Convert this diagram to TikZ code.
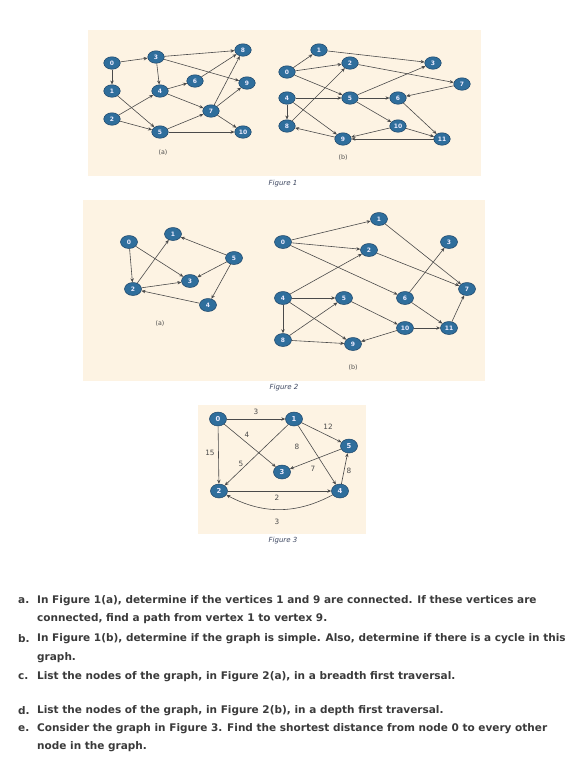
\documentclass[tikz,border=0pt]{standalone}
\usepackage{fontspec}
\setmainfont{DejaVu Sans}
\usetikzlibrary{shapes.geometric,arrows.meta}
\definecolor{panelbg}{HTML}{FDF3E3}
\definecolor{nodefill}{HTML}{2F6E9C}
\definecolor{nodeedge}{HTML}{1D4568}
\definecolor{edgecol}{HTML}{4A4A4A}
\definecolor{capcol}{HTML}{3C4660}
\definecolor{qcol}{HTML}{3A3A3A}
\tikzset{
  vtx/.style={ellipse,fill=nodefill,draw=nodeedge,line width=0.5pt,minimum width=16.5pt,minimum height=12.5pt,inner sep=0pt,text=white!92!blue,font=\fontsize{6}{6}\selectfont\bfseries},
  vtxm/.style={vtx,minimum width=17pt,minimum height=13pt},
  vtxb/.style={vtx,minimum width=17pt,minimum height=14pt,font=\fontsize{6.8}{7}\selectfont\bfseries},
  arc/.style={draw=edgecol,line width=0.6pt,-{Stealth[length=4pt,width=3.4pt]}},
  panel/.style={fill=panelbg,draw=none},
  sub/.style={font=\fontsize{6.3}{7}\selectfont,text=black!70},
  figcap/.style={font=\fontsize{7}{8}\selectfont\itshape,text=capcol},
  wt/.style={font=\fontsize{7.3}{8}\selectfont,text=black!70},
  qline/.style={anchor=west,font=\fontsize{10.5}{12}\selectfont\bfseries,text=qcol,inner sep=0pt}
}
\begin{document}
\begin{tikzpicture}[x=1pt,y=-1pt]
\useasboundingbox (0,0) rectangle (584,772);
\fill[white] (0,0) rectangle (584,772);
% panels
\path[panel] (88,30) rectangle (481,176);
\path[panel] (83,200) rectangle (485,381);
\path[panel] (198,405) rectangle (366,534);

% ---------- Figure 1(a)
\node[vtx] (a0) at (112,63) {0};
\node[vtx] (a3) at (156,57) {3};
\node[vtx] (a1) at (112,91) {1};
\node[vtx] (a4) at (160,91) {4};
\node[vtx] (a6) at (195,81) {6};
\node[vtx] (a8) at (243,50) {8};
\node[vtx] (a9) at (247,83) {9};
\node[vtx] (a2) at (112,119) {2};
\node[vtx] (a5) at (160,132) {5};
\node[vtx] (a7) at (211,111) {7};
\node[vtx] (a10) at (243,132) {10};
\node[sub] (alab) at (163,153) {(a)};
\draw[arc] (a0) -- (a3);
\draw[arc] (a0) -- (a1);
\draw[arc] (a3) -- (a8);
\draw[arc] (a3) -- (a9);
\draw[arc] (a3) -- (a4);
\draw[arc] (a4) -- (a6);
\draw[arc] (a4) -- (a7);
\draw[arc] (a6) -- (a8);
\draw[arc] (a1) -- (a5);
\draw[arc] (a2) -- (a4);
\draw[arc] (a2) -- (a5);
\draw[arc] (a5) -- (a7);
\draw[arc] (a5) -- (a10);
\draw[arc] (a7) -- (a8);
\draw[arc] (a7) -- (a9);
\draw[arc] (a7) -- (a10);

% ---------- Figure 1(b)
\node[vtx] (b1) at (319,50) {1};
\node[vtx] (b0) at (287,72) {0};
\node[vtx] (b2) at (350,63) {2};
\node[vtx] (b3) at (433,63) {3};
\node[vtx] (b7) at (462,84) {7};
\node[vtx] (b4) at (287,98) {4};
\node[vtx] (b5) at (350,98) {5};
\node[vtx] (b6) at (398,98) {6};
\node[vtx] (b8) at (287,126) {8};
\node[vtx] (b10) at (398,126) {10};
\node[vtx] (b9) at (343,139) {9};
\node[vtx] (b11) at (442,139) {11};
\node[sub] (blab) at (343,158) {(b)};
\draw[arc] (b0) -- (b1);
\draw[arc] (b0) -- (b2);
\draw[arc] (b0) -- (b5);
\draw[arc] (b1) -- (b3);
\draw[arc] (b2) -- (b7);
\draw[arc] (b4) -- (b5);
\draw[arc] (b4) -- (b8);
\draw[arc] (b4) -- (b9);
\draw[arc] (b8) -- (b2);
\draw[arc] (b5) -- (b3);
\draw[arc] (b5) -- (b6);
\draw[arc] (b5) -- (b10);
\draw[arc] (b7) -- (b6);
\draw[arc] (b6) -- (b11);
\draw[arc] (b10) -- (b9);
\draw[arc] (b10) -- (b11);
\draw[arc] (b11) -- (b9);
\draw[arc] (b9) -- (b8);
\node[figcap] (cap1) at (283,184) {Figure 1};

% ---------- Figure 2(a)
\node[vtxm] (c0) at (129,242) {0};
\node[vtxm] (c1) at (173,234) {1};
\node[vtxm] (c5) at (234,258) {5};
\node[vtxm] (c2) at (133,289) {2};
\node[vtxm] (c3) at (190,281) {3};
\node[vtxm] (c4) at (208,305) {4};
\node[sub] (clab) at (160,324) {(a)};
\draw[arc] (c0) -- (c2);
\draw[arc] (c0) -- (c3);
\draw[arc] (c2) -- (c1);
\draw[arc] (c2) -- (c3);
\draw[arc] (c5) -- (c1);
\draw[arc] (c5) -- (c3);
\draw[arc] (c5) -- (c4);
\draw[arc] (c4) -- (c2);

% ---------- Figure 2(b)
\node[vtxm] (d1) at (379,219) {1};
\node[vtxm] (d0) at (283,242) {0};
\node[vtxm] (d2) at (369,250) {2};
\node[vtxm] (d3) at (449,242) {3};
\node[vtxm] (d7) at (467,289) {7};
\node[vtxm] (d4) at (283,298) {4};
\node[vtxm] (d5) at (344,298) {5};
\node[vtxm] (d6) at (405,298) {6};
\node[vtxm] (d8) at (283,340) {8};
\node[vtxm] (d9) at (353,344) {9};
\node[vtxm] (d10) at (405,328) {10};
\node[vtxm] (d11) at (449,328) {11};
\node[sub] (dlab) at (353,368) {(b)};
\draw[arc] (d0) -- (d1);
\draw[arc] (d0) -- (d2);
\draw[arc] (d0) -- (d6);
\draw[arc] (d1) -- (d7);
\draw[arc] (d2) -- (d7);
\draw[arc] (d6) -- (d3);
\draw[arc] (d6) -- (d11);
\draw[arc] (d4) -- (d2);
\draw[arc] (d4) -- (d5);
\draw[arc] (d4) -- (d8);
\draw[arc] (d4) -- (d9);
\draw[arc] (d5) -- (d10);
\draw[arc] (d8) -- (d5);
\draw[arc] (d8) -- (d9);
\draw[arc] (d10) -- (d9);
\draw[arc] (d10) -- (d11);
\draw[arc] (d11) -- (d7);
\node[figcap] (cap2) at (284,388) {Figure 2};

% ---------- Figure 3
\node[vtxb] (e0) at (218,419) {0};
\node[vtxb] (e1) at (294,419) {1};
\node[vtxb] (e5) at (349,446) {5};
\node[vtxb] (e3) at (282,472) {3};
\node[vtxb] (e2) at (219,491) {2};
\node[vtxb] (e4) at (340,491) {4};
\draw[arc] (e0) -- (e1);
\draw[arc] (e0) -- (e3);
\draw[arc] (e0) -- (e2);
\draw[arc] (e1) -- (e2);
\draw[arc] (e1) -- (e5);
\draw[arc] (e1) -- (e4);
\draw[arc] (e5) -- (e3);
\draw[arc] (e4) -- (e5);
\draw[arc] (e2) -- (e4);
\draw[arc] (e4) to[bend left=28] (e2);
\node[wt] (w01) at (256,412) {3};
\node[wt] (w03) at (247,435) {4};
\node[wt] (w02) at (210,453) {15};
\node[wt] (w12) at (241,464) {5};
\node[wt] (w15) at (328,427) {12};
\node[wt] (w14) at (297,447) {8};
\node[wt] (w53) at (313,469) {7};
\node[wt] (w45) at (349,471) {8};
\node[wt] (w24) at (277,498) {2};
\node[wt] (w42) at (277,522) {3};
\node[figcap] (cap3) at (283,541) {Figure 3};

% ---------- Questions
\node[qline] (qa) at (18,601) {a.};
\node[qline] (qa1) at (37,601) {In Figure 1(a), determine if the vertices 1 and 9 are connected. If these vertices are};
\node[qline] (qa2) at (37,619) {connected, find a path from vertex 1 to vertex 9.};
\node[qline] (qb) at (18,639) {b.};
\node[qline] (qb1) at (37,639) {In Figure 1(b), determine if the graph is simple. Also, determine if there is a cycle in this};
\node[qline] (qb2) at (37,658) {graph.};
\node[qline] (qc) at (18,677) {c.};
\node[qline] (qc1) at (37,677) {List the nodes of the graph, in Figure 2(a), in a breadth first traversal.};
\node[qline] (qd) at (18,711) {d.};
\node[qline] (qd1) at (37,711) {List the nodes of the graph, in Figure 2(b), in a depth first traversal.};
\node[qline] (qe) at (18,729) {e.};
\node[qline] (qe1) at (37,729) {Consider the graph in Figure 3. Find the shortest distance from node 0 to every other};
\node[qline] (qe2) at (37,747) {node in the graph.};
\end{tikzpicture}
\end{document}
